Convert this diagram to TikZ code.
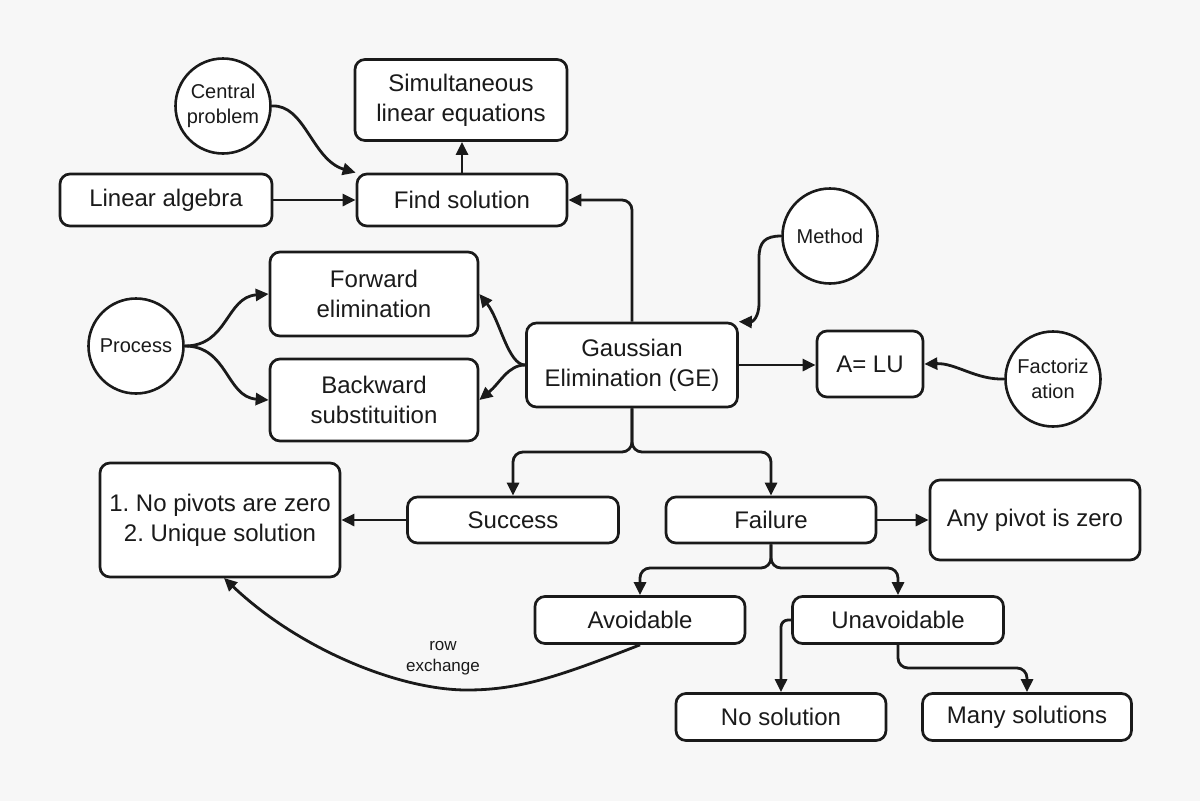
\documentclass[tikz,border=0pt]{standalone}
\usepackage{fontspec}
\setmainfont{Liberation Sans}
\usetikzlibrary{arrows.meta}
\definecolor{bgc}{HTML}{F7F7F7}
\definecolor{ink}{HTML}{1A1A1A}
\frenchspacing
\tikzset{
  box/.style={draw=ink, line width=2.7pt, fill=white, rounded corners=10pt, inner sep=0pt, align=center, font=\fontsize{24}{30}\selectfont, text=ink},
  circ/.style={circle, draw=ink, line width=2.6pt, fill=white, minimum size=95pt, inner sep=0pt, align=center, font=\fontsize{20}{25}\selectfont, text=ink},
  arr/.style={draw=ink, line width=2.8pt, line join=round, -{Triangle[length=13pt,width=12pt]}},
  lbl/.style={align=center, font=\fontsize{17}{21}\selectfont, text=ink, inner sep=0pt}
}
\begin{document}
\begin{tikzpicture}[x=1pt,y=-1pt]
\fill[bgc] (0,0) rectangle (1200,801);
\useasboundingbox (0,0) rectangle (1200,801);

% nodes
\node[box, minimum width=212pt, minimum height=81pt] (sim) at (461,100) {Simultaneous\\linear equations};
\node[circ] (cp) at (223,106) {Central\\problem};
\node[box, minimum width=212pt, minimum height=52pt] (la) at (166,200) {Linear algebra};
\node[box, minimum width=210pt, minimum height=52pt] (fs) at (462,200) {Find solution};
\node[box, minimum width=208pt, minimum height=84pt] (fwd) at (374,294) {Forward\\elimination};
\node[box, minimum width=208pt, minimum height=82pt] (bwd) at (374,400) {Backward\\substituition};
\node[circ] (proc) at (136,346) {Process};
\node[box, minimum width=211pt, minimum height=84pt] (ge) at (632,365) {Gaussian\\Elimination (GE)};
\node[circ] (meth) at (830,236) {Method};
\node[box, minimum width=106pt, minimum height=66pt] (lu) at (870,364) {A= LU};
\node[circ] (fact) at (1053,379) {Factoriz\\ation};
\node[box, minimum width=240pt, minimum height=114pt] (nopiv) at (220,520) {1. No pivots are zero\\2. Unique solution};
\node[box, minimum width=211pt, minimum height=46pt] (succ) at (513,520) {Success};
\node[box, minimum width=210pt, minimum height=46pt] (fail) at (771,520) {Failure};
\node[box, minimum width=210pt, minimum height=80pt] (any) at (1035,520) {Any pivot is zero};
\node[box, minimum width=210pt, minimum height=47pt] (avoid) at (640,620) {Avoidable};
\node[box, minimum width=211pt, minimum height=47pt] (unav) at (898,620) {Unavoidable};
\node[box, minimum width=210pt, minimum height=47pt] (nosol) at (781,717) {No solution};
\node[box, minimum width=209pt, minimum height=47pt] (many) at (1027,717) {Many solutions};
\node[lbl] (rowex) at (443,658) {row\\exchange};

\coordinate (split1) at (632,452);
\coordinate (split2) at (771,568);
\coordinate (split3) at (898,668);

% connectors
\draw[arr] (la.east) -- (fs.west);
\draw[arr] (fs.north) -- (fs.north |- sim.south);
\draw[arr] (cp.east) .. controls (305,104) and (312,160) .. (fs.north west);
\draw[arr, rounded corners=10pt] (ge.north) |- (fs.east);
\draw[arr] (meth.west) .. controls (765,236) and (759,242) .. (759,258) -- (759,303) .. controls (759,318) and (752,322) .. (ge.north east);
\draw[arr] (ge.east) -- (ge.east -| lu.west);
\draw[arr] (fact.west) .. controls (976,380) and (956,363) .. (lu.east);
\draw[arr] (proc.east) .. controls (228,346) and (226,297) .. (fwd.west);
\draw[arr] (proc.east) .. controls (228,346) and (226,397) .. (bwd.west);
\draw[arr] (ge.west) .. controls (508,365) and (500,320) .. (fwd.east);
\draw[arr] (ge.west) .. controls (508,365) and (500,383) .. (bwd.east);
\draw[arr, rounded corners=10pt] (ge.south) -- (split1) -| (succ.north);
\draw[arr, rounded corners=10pt] (ge.south) -- (split1) -| (fail.north);
\draw[arr] (succ.west) -- (nopiv.east);
\draw[arr] (fail.east) -- (any.west);
\draw[arr, rounded corners=10pt] (fail.south) -- (split2) -| (avoid.north);
\draw[arr, rounded corners=10pt] (fail.south) -- (split2) -| (unav.north);
\draw[arr, rounded corners=7pt] (unav.west) -| (nosol.north);
\draw[arr, rounded corners=10pt] (unav.south) -- (split3) -| (many.north);
\draw[arr] (avoid.south) .. controls (560,676) and (520,690) .. (467,690) .. controls (400,690) and (300,650) .. (224,578);
\end{tikzpicture}
\end{document}
